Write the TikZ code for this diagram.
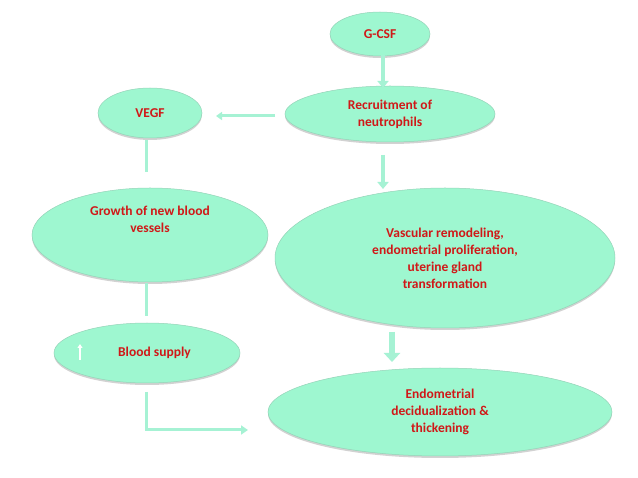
\documentclass[tikz,border=0pt]{standalone}
\usepackage{fontspec}
\setmainfont{Carlito}
\usetikzlibrary{arrows.meta,shadows,shapes.geometric}
\definecolor{mint}{HTML}{9EF7D0}
\definecolor{arr}{HTML}{A6F2D4}
\definecolor{txt}{HTML}{D01818}
\begin{document}
\begin{tikzpicture}[x=1pt,y=-1pt,
  el/.style={ellipse,fill=mint,draw=mint!70!gray,line width=0.5pt,
     drop shadow={shadow xshift=0pt,shadow yshift=-2pt,opacity=0.35},
     font=\bfseries\fontsize{13.5}{17}\selectfont,text=txt,align=center,inner sep=0pt},
  ar/.style={draw=arr,line width=4pt,-{Triangle[length=7pt,width=11pt]}},
  ln/.style={draw=arr,line width=3pt}]
\useasboundingbox (0,0) rectangle (638,478);
\fill[white] (0,0) rectangle (638,478);
\node[el,minimum width=100,minimum height=44] (g) at (380,34) {G-CSF};
\node[el,minimum width=210,minimum height=56] (r) at (390,114) {Recruitment of\\neutrophils};
\node[el,minimum width=104,minimum height=50] (v) at (150,113) {VEGF};
\node[el,minimum width=236,minimum height=94] (gr) at (150,235) {Growth of new blood\\vessels\\[14pt]};
\node[el,minimum width=340,minimum height=140] (vr) at (445,258) {Vascular remodeling,\\endometrial proliferation,\\uterine gland\\transformation};
\node[el,minimum width=186,minimum height=60] (b) at (147,353) {\hspace*{1.1em}Blood supply};
\node[el,minimum width=344,minimum height=88] (e) at (440,412) {Endometrial\\decidualization \&\\thickening};
\draw[white,line width=2pt,-{Triangle[length=4pt,width=5pt]}] (80,360) -- (80,344);
\coordinate (c1) at (383,55); \coordinate (c2) at (383,88);
\draw[ar] (c1) -- (c2);
\coordinate (c3) at (383,155); \coordinate (c4) at (383,189);
\draw[ar] (c3) -- (c4);
\coordinate (c5) at (392,332); \coordinate (c6) at (392,362);
\draw[ar,line width=6pt,-{Triangle[length=9pt,width=16pt]}] (c5) -- (c6);
\coordinate (h1) at (275,116); \coordinate (h2) at (216,116);
\draw[draw=arr,line width=3pt,-{Triangle[length=6pt,width=8pt]}] (h1) -- (h2);
\coordinate (l1) at (146,140); \coordinate (l2) at (146,172);
\draw[ln] (l1) -- (l2);
\coordinate (l3) at (146,283); \coordinate (l4) at (146,316);
\draw[ln] (l3) -- (l4);
\coordinate (p1) at (146,392); \coordinate (p2) at (146,430); \coordinate (p3) at (248,430);
\draw[draw=arr,line width=3pt,-{Triangle[length=7pt,width=9pt]}] (p1) -- (p2) -- (p3);
\end{tikzpicture}
\end{document}
